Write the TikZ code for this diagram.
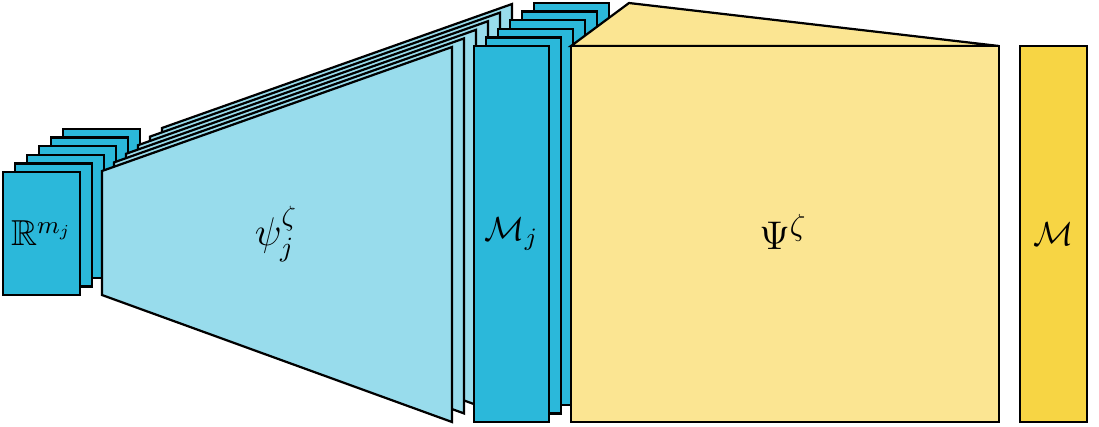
\documentclass[tikz,border=0pt]{standalone}
\usepackage{amsmath}
\usepackage{amssymb}
\usepackage{tikz}
\usepackage{xcolor}
\definecolor{layerB}{RGB}{43,184,218}
\definecolor{mapB}{RGB}{152,220,236}
\definecolor{mapY}{RGB}{251,229,146}
\definecolor{outY}{RGB}{247,213,68}
\tikzstyle{slab}=[draw=black,line width=0.8pt,line join=miter]

\begin{document}
\begin{tikzpicture}[x=0.36pt,y=-0.36pt]
  \tikzstyle lbl=[font=\fontsize{13}{15}\selectfont];
  \tikzstyle biglbl=[font=\fontsize{15.5}{18}\selectfont];
  \useasboundingbox (0,0) rectangle (1099,426);
  % input copies, back to front
  \foreach \k in {5,4,...,0}
  {
    \draw[slab,fill=layerB] (3+12*\k,172-8.6*\k) rectangle (80+12*\k,295-8.6*\k);
  }
  % local maps
  \foreach \k in {5,4,...,0}
  {
    \draw[slab,fill=mapB] (102+12*\k,171-8.6*\k) -- (452+12*\k,47-8.6*\k)
      -- (452+12*\k,422-8.6*\k) -- (102+12*\k,295-8.6*\k) -- cycle;
  }
  % local manifolds
  \foreach \k in {5,4,...,0}
  {
    \draw[slab,fill=layerB] (474+12*\k,46-8.6*\k) rectangle (549+12*\k,422-8.6*\k);
  }
  % global map
  \draw[slab,fill=mapY] (571,46) -- (629,3) -- (999,46) -- cycle;
  \draw[slab,fill=mapY] (571,46) rectangle (999,422);
  % global manifold
  \draw[slab,fill=outY] (1020,46) rectangle (1087,422);

  \node[lbl] (inR) at (41.5,233) {$\mathbb{R}^{m_j}$};
  \node[lbl,font=\fontsize{14.5}{17}\selectfont] (psij) at (276,234) {$\psi^{\zeta}_{j}$};
  \node[lbl] (Mj) at (511.5,234) {$\mathcal{M}_j$};
  \node[biglbl] (Psi) at (783,232) {$\Psi^{\zeta}$};
  \node[lbl] (M) at (1053.5,234) {$\mathcal{M}$};
\end{tikzpicture}
\end{document}
